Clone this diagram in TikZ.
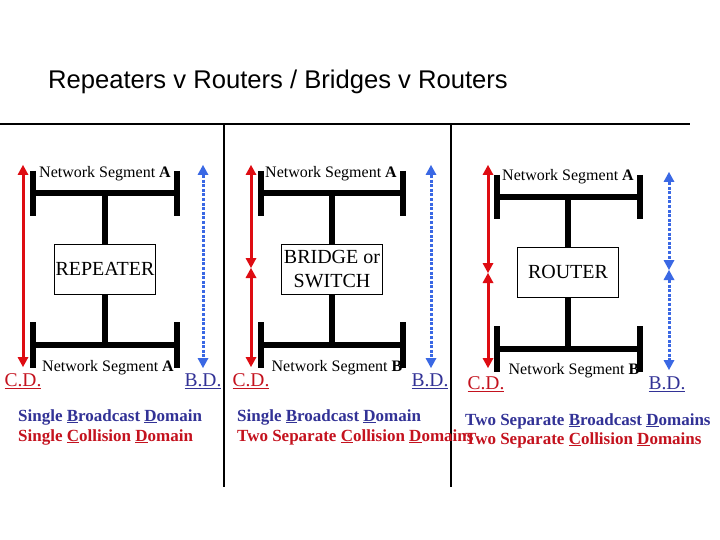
\documentclass[tikz,border=0pt]{standalone}
\usepackage{fontspec}
\setmainfont{Liberation Serif}
\newfontfamily\titlefont{Liberation Sans}
\usetikzlibrary{arrows.meta, positioning}
\definecolor{arrowred}{RGB}{222,12,18}
\definecolor{arrowblue}{RGB}{58,104,228}
\definecolor{cdred}{RGB}{196,18,30}
\definecolor{bdblue}{RGB}{50,50,150}
\tikzset{
  bus/.style={line width=6pt, line cap=butt},
  devbox/.style={rectangle, draw, line width=0.9pt, fill=white,
    minimum width=101pt, minimum height=50pt, inner sep=0pt,
    align=center, font=\fontsize{20}{24}\selectfont},
  seglabel/.style={inner sep=0pt, font=\fontsize{16}{18}\selectfont},
  cdlabel/.style={inner sep=0pt, text=cdred, font=\fontsize{19.5}{21}\selectfont},
  bdlabel/.style={inner sep=0pt, text=bdblue, font=\fontsize{19.5}{21}\selectfont},
  bdtext/.style={anchor=west, inner sep=0pt, text=bdblue, font=\bfseries\fontsize{17}{19}\selectfont},
  cdtext/.style={anchor=west, inner sep=0pt, text=cdred, font=\bfseries\fontsize{17}{19}\selectfont},
  cdarrow/.style={{Triangle[length=10pt,width=11pt,line width=0pt]}-{Triangle[length=10pt,width=11pt,line width=0pt]},
    line width=3pt, draw=arrowred},
  bdarrow/.style={{Triangle[length=10pt,width=11pt,line width=0pt]}-{Triangle[length=10pt,width=11pt,line width=0pt]},
    line width=3pt, draw=arrowblue, dash pattern=on 3pt off 1.6pt},
  divider/.style={line width=2.6pt}
}
\begin{document}
\begin{tikzpicture}[x=1pt, y=-1pt]
  \useasboundingbox[fill=white] (0,0) rectangle (720,540);

  % --- TITLE AND FRAME ---
  \node[anchor=west, inner sep=0pt, font=\titlefont\fontsize{25.6}{28}\selectfont] (title) at (48,82) {Repeaters v Routers / Bridges v Routers};
  \coordinate (rule_l) at (0,124);
  \coordinate (rule_r) at (690,124);
  \coordinate (div1_top) at (224,124);
  \coordinate (div1_bot) at (224,487);
  \coordinate (div2_top) at (451,124);
  \coordinate (div2_bot) at (451,487);
  \draw[divider] (rule_l) -- (rule_r);
  \draw[divider] (div1_top) -- (div1_bot);
  \draw[divider] (div2_top) -- (div2_bot);

  % --- REPEATER ---
  \node[devbox] (rep_box) at (105,269) {REPEATER};
  \draw[bus] (33,193) -- (177,193);
  \draw[bus] (33,171) -- (33,216);
  \draw[bus] (177,171) -- (177,216);
  \draw[bus] (33,345) -- (177,345);
  \draw[bus] (33,322) -- (33,368);
  \draw[bus] (177,322) -- (177,368);
  \draw[bus] (rep_box.north) -- ++(0,-51);
  \draw[bus] (rep_box.south) -- ++(0,51);
  \node[seglabel] (rep_sega) at (105,174) {Network Segment \textbf{A}};
  \node[seglabel] (rep_segb) at (108,368) {Network Segment \textbf{A}};

  \coordinate (rep_cd_top) at (23,165);
  \coordinate (rep_cd_bot) at (23,367);
  \draw[cdarrow] (rep_cd_top) -- (rep_cd_bot);
  \coordinate (rep_bd_top) at (203,165);
  \coordinate (rep_bd_bot) at (203,368);
  \draw[bdarrow] (rep_bd_top) -- (rep_bd_bot);
  \node[cdlabel] (rep_cd) at (23,381) {\underline{C.D.}};
  \node[bdlabel] (rep_bd) at (203,381) {\underline{B.D.}};

  \node[bdtext] (rep_bdt) at (18,417) {Single \underline{B}roadcast \underline{D}omain};
  \node[cdtext] (rep_cdt) at (18,437) {Single \underline{C}ollision \underline{D}omain};

  % --- BRIDGE OR SWITCH ---
  \node[devbox] (br_box) at (332,269) {BRIDGE or\\SWITCH};
  \draw[bus] (261,193) -- (403,193);
  \draw[bus] (261,171) -- (261,216);
  \draw[bus] (403,171) -- (403,216);
  \draw[bus] (261,345) -- (403,345);
  \draw[bus] (261,322) -- (261,368);
  \draw[bus] (403,322) -- (403,368);
  \draw[bus] (br_box.north) -- ++(0,-51);
  \draw[bus] (br_box.south) -- ++(0,51);
  \node[seglabel] (br_sega) at (331,174) {Network Segment \textbf{A}};
  \node[seglabel] (br_segb) at (337,368) {Network Segment \textbf{B}};

  \coordinate (br_cd_top) at (251,165);
  \coordinate (br_cd_mid) at (251,268);
  \coordinate (br_cd_bot) at (251,367);
  \draw[cdarrow] (br_cd_top) -- (br_cd_mid);
  \draw[cdarrow] (br_cd_mid) -- (br_cd_bot);
  \coordinate (br_bd_top) at (431,165);
  \coordinate (br_bd_bot) at (431,368);
  \draw[bdarrow] (br_bd_top) -- (br_bd_bot);
  \node[cdlabel] (br_cd) at (251,381) {\underline{C.D.}};
  \node[bdlabel] (br_bd) at (430,381) {\underline{B.D.}};

  \node[bdtext] (br_bdt) at (237,417) {Single \underline{B}roadcast \underline{D}omain};
  \node[cdtext] (br_cdt) at (237,437) {Two Separate \underline{C}ollision \underline{D}omains};

  % --- ROUTER ---
  \node[devbox] (rt_box) at (568,272) {ROUTER};
  \draw[bus] (497,197) -- (640,197);
  \draw[bus] (497,175) -- (497,219);
  \draw[bus] (640,175) -- (640,219);
  \draw[bus] (497,349) -- (640,349);
  \draw[bus] (497,326) -- (497,372);
  \draw[bus] (640,326) -- (640,372);
  \draw[bus] (rt_box.north) -- ++(0,-50);
  \draw[bus] (rt_box.south) -- ++(0,52);
  \node[seglabel] (rt_sega) at (568,177) {Network Segment \textbf{A}};
  \node[seglabel] (rt_segb) at (574,371) {Network Segment \textbf{B}};

  \coordinate (rt_cd_top) at (488,165);
  \coordinate (rt_cd_mid) at (488,273);
  \coordinate (rt_cd_bot) at (488,368);
  \draw[cdarrow] (rt_cd_top) -- (rt_cd_mid);
  \draw[cdarrow] (rt_cd_mid) -- (rt_cd_bot);
  \coordinate (rt_bd_top) at (669,172);
  \coordinate (rt_bd_mid) at (669,270);
  \coordinate (rt_bd_bot) at (669,370);
  \draw[bdarrow] (rt_bd_top) -- (rt_bd_mid);
  \draw[bdarrow] (rt_bd_mid) -- (rt_bd_bot);
  \node[cdlabel] (rt_cd) at (486,384) {\underline{C.D.}};
  \node[bdlabel] (rt_bd) at (667,384) {\underline{B.D.}};

  \node[bdtext] (rt_bdt) at (465,421) {Two Separate \underline{B}roadcast \underline{D}omains};
  \node[cdtext] (rt_cdt) at (465,440) {Two Separate \underline{C}ollision \underline{D}omains};
\end{tikzpicture}
\end{document}
